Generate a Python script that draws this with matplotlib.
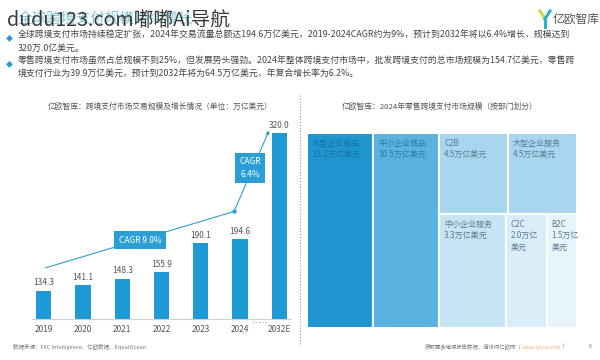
import matplotlib
matplotlib.use("Agg")
import matplotlib.pyplot as plt
import matplotlib.patches as mpatches

plt.rcParams['font.family'] = ['Noto Sans CJK SC', 'DejaVu Sans']

# ── DATA ──────────────────────────────────────────────────────────────────────
years = ['2019', '2020', '2021', '2022', '2023', '2024', '2032E']
volume = [134.3, 141.1, 148.3, 155.9, 190.1, 194.6, 320.0]
cagr_labels = ['CAGR 9.0%', 'CAGR\n6.4%']

seg_names = ['大型企业商品', '中小企业商品', 'C2B', '大型企业服务',
             '中小企业服务', 'C2C', 'B2C']
seg_values = [13.2, 10.5, 4.5, 4.5, 3.3, 2.0, 1.5]
seg_labels = ['13.2万亿美元', '10.5万亿美元', '4.5万亿美元', '4.5万亿美元',
              '3.3万亿美元', '2.0万亿\n美元', '1.5万亿\n美元']

bullet1 = ('全球跨境支付市场持续稳定扩张，2024年交易流量总额达194.6万亿美元，2019-2024CAGR约为9%，预计到2032年将以6.4%增长，规模达到\n'
           '320万.0亿美元。')
bullet2 = ('零售跨境支付市场虽然占总规模不到25%，但发展势头强劲。2024年整体跨境支付市场中，批发跨境支付的总市场规模为154.7亿美元，零售跨\n'
           '境支付行业为39.9万亿美元，预计到2032年将为64.5万亿美元，年复合增长率为6.2%。')

BLUE = '#1e9bd7'
TXT = '#555555'

W, H = 600, 360
fig = plt.figure(figsize=(6, 3.6), dpi=100)
fig.patch.set_facecolor('white')

def fx(px): return px / W
def fy(py): return 1 - py / H

# ── HEADER ───────────────────────────────────────────────────────────────────
# page title sits under the site watermark, as in the source
fig.text(fx(18), fy(19), '全球跨境支付规模持续增长', color='#4ab3cc', fontsize=10.5,
         va='center', ha='left', alpha=0.7)
fig.text(fx(7), fy(21), 'dudu123.com嘟嘟Ai导航', color='#3a3a3a', fontsize=14.2,
         va='center', ha='left')

# logo
fig.add_artist(plt.Line2D([fx(540), fx(545)], [fy(11), fy(19)], color='#c8d84a', lw=2.2))
fig.add_artist(plt.Line2D([fx(550), fx(545)], [fy(11), fy(19)], color='#2bb0c8', lw=2.2))
fig.add_artist(plt.Line2D([fx(545), fx(545)], [fy(19), fy(27)], color='#2bb0c8', lw=2.2))
fig.text(fx(553), fy(19), '亿欧智库', color='#555555', fontsize=8.5, va='center', ha='left')

for yb, txt in [(38, bullet1), (64, bullet2)]:
    fig.text(fx(9), fy(yb), '◆', color='#1e9bd7', fontsize=5, va='center', ha='center')
    fig.text(fx(18), fy(yb) + 0.019, txt, color='#444444', fontsize=6.4,
             va='top', ha='left', linespacing=1.45)

# separator
fig.add_artist(plt.Line2D([fx(300), fx(300)], [fy(95), fy(346)], color='#999999',
                          lw=0.8, linestyle=':'))

# ── LEFT: bar chart ──────────────────────────────────────────────────────────
fig.text(fx(160), fy(107), '亿欧智库：跨境支付市场交易规模及增长情况（单位：万亿美元）',
         color=TXT, fontsize=5.6, ha='center', va='center')

ax1 = fig.add_axes([fx(32), fy(319), fx(291) - fx(32), fy(116) - fy(319)])
x = list(range(len(years)))
ax1.bar(x, volume, width=0.39, color=BLUE, bottom=0, zorder=2)
ax1.set_xlim(-0.3, len(years) - 0.7)
ax1.set_ylim(101, 340)
ax1.set_xticks(x)
ax1.set_xticklabels(years, fontsize=6, color=TXT)
ax1.tick_params(axis='x', length=0, pad=4)
ax1.set_yticks([])
for s in ['top', 'right', 'left']:
    ax1.spines[s].set_visible(False)
ax1.spines['bottom'].set_color('#d0d0d0')
ax1.spines['bottom'].set_linewidth(0.8)
ax1.patch.set_alpha(0)
for xi, v in zip(x, volume):
    ax1.text(xi, v + 4, f'{v:.1f}', ha='center', va='bottom', fontsize=6, color=TXT)
ax1.text(5.5, 101, '……', ha='center', va='top', fontsize=6, color=TXT,
         clip_on=False)

# CAGR trend arrow
p0 = (0.05, volume[0] + 27)
p1 = (4.85, volume[5] + 33)
p2 = (5.77, volume[6] + 6)
ax1.plot([p0[0], p1[0]], [p0[1], p1[1]], color='#2a9fd6', lw=0.8, zorder=3)
ax1.plot(p1[0], p1[1], 'o', color='#2a9fd6', ms=2.2, zorder=3)
ax1.annotate('', xy=p2, xytext=p1,
             arrowprops=dict(arrowstyle='-|>', color='#2a9fd6', lw=0.8,
                             mutation_scale=5), zorder=3)
ax1.text(2.46, 194, cagr_labels[0], ha='center', va='center', fontsize=6,
         color='white', zorder=4,
         bbox=dict(boxstyle='square,pad=0.55', fc='#2a9fd6', ec='none'))
ax1.text(5.26, 279, cagr_labels[1], ha='center', va='center', fontsize=6,
         color='white', zorder=4, linespacing=1.5,
         bbox=dict(boxstyle='square,pad=0.5', fc='#2a9fd6', ec='none'))

# ── RIGHT: treemap ───────────────────────────────────────────────────────────
fig.text(fx(440), fy(107), '亿欧智库：2024年零售跨境支付市场规模（按部门划分）',
         color=TXT, fontsize=5.6, ha='center', va='center')

ax2 = fig.add_axes([fx(307), fy(328), fx(577) - fx(307), fy(133) - fy(328)])
ax2.set_xlim(0, 1)
ax2.set_ylim(0, 1)
ax2.axis('off')

colors = ['#1f96d0', '#59b2df', '#a8d6ee', '#a8d6ee', '#c6e5f4', '#d9eef8', '#e6f4fb']
txt_colors = ['#1a6d9c', '#2a78a8', '#5a7890', '#5a7890', '#5a7890', '#5a7890', '#5a7890']

# first two segments as full-height columns, the rest split into two rows
col_w = 0.245
rects = [(0, 0, col_w, 1), (col_w, 0, col_w, 1)]
rest_x = 2 * col_w
rest_w = 1 - rest_x
top_h = 0.415
rows = [(seg_values[2:4], 1 - top_h, top_h), (seg_values[4:7], 0, 1 - top_h)]
for vals, y0, h in rows:
    tot = sum(vals)
    cx = rest_x
    for v in vals:
        w = rest_w * v / tot
        rects.append((cx, y0, w, h))
        cx += w

for (rx, ry, rw, rh), name, lab, c, tc in zip(rects, seg_names, seg_labels,
                                               colors, txt_colors):
    ax2.add_patch(mpatches.Rectangle((rx, ry), rw, rh, fc=c, ec='white', lw=1.5))
    ax2.text(rx + 0.018, ry + rh - 0.03, name + '\n' + lab, ha='left', va='top',
             fontsize=5.8, color=tc, linespacing=1.35)

# ── FOOTER ───────────────────────────────────────────────────────────────────
fig.text(fx(13), fy(347), '数据来源：FXC Intelligence、亿欧数据、EqualOcean',
         fontsize=4.0, color='#777777', va='center', ha='left')
t1 = fig.text(fx(425), fy(347), '获取更多编辑报告数据，请访问亿欧网（', fontsize=3.9,
              color='#777777', va='center', ha='left')
url = fig.add_artist(plt.Annotation('www.iyiou.com', xy=(1, 0.5), xycoords=t1,
                                    fontsize=3.9, color='#f0b070',
                                    va='center', ha='left'))
fig.add_artist(plt.Annotation('）', xy=(1, 0.5), xycoords=url, fontsize=3.9,
                              color='#777777', va='center', ha='left'))
fig.text(fx(590), fy(347), '6', fontsize=4.0, color='#777777', va='center', ha='center')

fig.savefig('out.png', dpi=100, facecolor='white')
